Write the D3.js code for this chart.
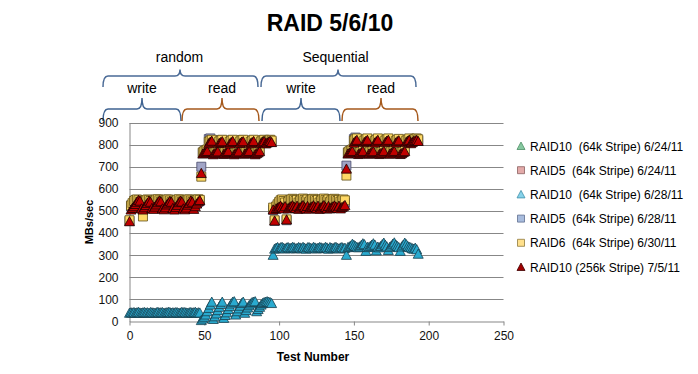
<!DOCTYPE html>
<html><head><meta charset="utf-8">
<script src="https://cdn.jsdelivr.net/npm/d3@7"></script>
<style>
body{margin:0;background:#fff}
svg{display:block}
text{font-family:"Liberation Sans",Arial,sans-serif;white-space:pre}
</style>
</head><body>
<svg id="chart" width="698" height="374"></svg>
<script>
// ---------------- data ----------------
const chartTitle = "RAID 5/6/10";
const xLabel = "Test Number";
const yLabel = "MBs/sec";
const xTicks = [0, 50, 100, 150, 200, 250];
const yTicks = [0, 100, 200, 300, 400, 500, 600, 700, 800, 900];
const groupLabels = ["random", "Sequential"];
const subLabels = ["write", "read", "write", "read"];
const seriesNames = [
  "RAID10  (64k Stripe) 6/24/11",
  "RAID5  (64k Stripe) 6/24/11",
  "RAID10  (64k Stripe) 6/28/11",
  "RAID5  (64k Stripe) 6/28/11",
  "RAID6  (64k Stripe) 6/30/11",
  "RAID10 (256k Stripe) 7/5/11"
];
// values indexed by test number (0..193)
const raid10_64k_0624 = [];
const raid5_64k_0624 = [];
const raid10_64k_0628 = [
  // random write 0-47
  38,40,39,41,38,40,42,39,38,40, 41,39,40,38,41,40,39,38,40,42,
  39,40,41,38,39,40,42,41,38,40, 39,41,40,38,39,42,40,41,39,38,
  40,41,39,40,42,38,40,39,
  // random read 48-95
  5,12,20,30,45,60,75,88,
  10,22,35,50,65,78,88,
  15,28,40,55,68,80,88,90,
  30,45,58,70,82,88,
  38,50,62,72,80,86,88,90,
  45,55,65,75,82,86,88,90,
  88,86,82,
  // sequential write 96-144
  300,
  328,332,335,330,334,336,331,329,333,335, 330,332,336,334,329,331,335,333,330,336,
  332,328,334,335,331,330,336,333,329,332, 335,334,330,331,336,333,328,335,332,330,
  334,336,331,329,333,335,330,332,
  // sequential read 145-193
  300,
  335,338,342,350,345,340,336,
  334,338,345,352,348,318,336,
  335,340,346,352,346,320,337,
  334,340,348,355,345,338,322,
  336,342,350,356,346,340,335,
  318,338,346,355,348,340,336,
  334,330,328,332,325,305
];
const raid5_64k_0628 = [
  // random write
  455,
  520,528,535,540,545,538,530,522,527,534, 540,544,537,530,521,528,535,541,545,538,
  529,522,528,534,540,544,537,530,521,527, 535,541,545,538,529,522,528,534,540,545,
  537,530,523,530,536,542,545,
  // random read
  700,
  762,768,772,776,825,828,820,
  760,766,770,775,815,820,818,
  762,766,770,775,812,818,816,
  760,765,770,774,814,818,816,
  762,766,771,775,812,818,816,
  760,765,770,774,814,818,816,
  812,816,818,816,812,
  // sequential write
  505,455,510,
  522,530,538,540,535,528,
  458,
  528,535,540,544,538,532,540,527,534,540, 545,538,530,541,528,535,540,544,538,532,
  540,527,534,540,545,538,530,541,528,535, 540,544,538,532,540,530,536,540,537,
  // sequential read
  705,
  762,768,772,776,825,832,822,
  760,765,770,775,815,820,822,
  761,765,770,774,814,820,822,
  760,765,769,775,815,820,822,
  761,766,770,775,814,818,820,
  760,765,770,774,815,820,822,
  812,816,820,822,822,818
];
const raid6_64k_0630 = [
  // random write
  458,
  525,535,545,550,552,548,540,
  530,475,
  540,548,552,550,545,
  528,538,546,552,553,548,542,
  530,540,548,552,552,547,540,
  528,538,546,551,553,548,542,
  530,540,547,552,552,547,541,
  535,545,550,553,550,
  // random read
  655,
  765,770,774,778,812,818,822,
  762,768,772,776,814,818,822,
  764,768,773,778,812,818,822,
  762,768,772,776,814,820,822,
  765,769,774,778,812,818,822,
  762,768,772,777,814,819,822,
  812,816,820,822,818,
  // sequential write
  515,458,520,
  530,540,548,552,545,538,
  462,
  540,548,552,555,550,545,550,
  538,546,552,556,550,544,552,
  540,548,552,555,550,545,550,
  538,546,552,556,550,544,552,
  540,548,552,555,550,545,550,
  542,548,552,548,
  // sequential read
  660,
  765,770,774,778,818,824,828,
  764,768,772,778,818,824,828,
  765,769,773,777,816,822,828,
  764,768,772,778,818,824,828,
  765,770,774,778,816,822,826,
  764,768,773,777,818,823,828,
  814,818,823,826,828,824
];
const raid10_256k_0705 = [
  // random write
  452,
  505,512,520,530,540,548,545,
  510,505,515,525,535,545,540,
  512,508,518,528,538,546,542,
  510,506,515,528,536,544,540,
  512,505,516,526,538,545,541,
  510,506,514,527,535,546,540,
  508,520,532,542,548,
  // random read
  670,
  758,762,766,770,805,812,816,
  755,760,764,768,806,810,814,
  756,760,765,770,804,810,815,
  755,760,764,768,806,812,814,
  757,761,766,770,805,810,815,
  755,760,764,769,806,811,814,
  804,808,812,815,810,
  // sequential write
  505,455,510,
  512,518,522,515,510,520,
  460,
  510,515,520,524,518,512,522,
  508,514,520,525,516,510,521,
  509,515,519,524,517,511,522,
  508,514,520,525,516,510,521,
  510,515,519,523,518,512,522,
  510,516,520,525,
  // sequential read
  690,
  758,762,766,770,808,815,820,
  756,760,765,770,810,815,820,
  757,761,765,769,808,814,820,
  756,760,764,770,810,816,820,
  757,762,766,770,808,814,818,
  756,760,765,769,810,815,820,
  805,810,815,818,820,815
];

// ---------------- styles ----------------
const series = [
  {name: seriesNames[0], values: raid10_64k_0624, shape: "tri", fill: "#4FB07A", stroke: "#2D6B48", lfill: "#86C8A0", lstroke: "#4E8F66"},
  {name: seriesNames[1], values: raid5_64k_0624, shape: "sq", fill: "#D99694", stroke: "#7A4A48", lfill: "#E3AAA9", lstroke: "#8A6060"},
  {name: seriesNames[2], values: raid10_64k_0628, shape: "tri", fill: "#2AAACF", stroke: "#163F4E", lfill: "#86D2EA", lstroke: "#3F8FAA"},
  {name: seriesNames[3], values: raid5_64k_0628, shape: "sq", fill: "#A0A4C6", stroke: "#46496A", lfill: "#A8BCDD", lstroke: "#5F6F8F"},
  {name: seriesNames[4], values: raid6_64k_0630, shape: "sq", fill: "#FFD966", stroke: "#5E4C14", lfill: "#FFE08C", lstroke: "#8F7A3E"},
  {name: seriesNames[5], values: raid10_256k_0705, shape: "tri", fill: "#C00000", stroke: "#1A0000", lfill: "#A00000", lstroke: "#400000"}
];

const svg = d3.select("#chart");
const x = d3.scaleLinear().domain([0, 250]).range([129.5, 503.5]);
const y = d3.scaleLinear().domain([0, 900]).range([321.5, 122.5]);

// title
svg.append("text").attr("x", 330).attr("y", 31).attr("text-anchor", "middle")
  .attr("font-size", 23).attr("font-weight", "bold").attr("fill", "#000").text(chartTitle);

// braces
function bracePath(x0, x1, xm, yTop, yMid, yEnd, r) {
  return `M${x0},${yEnd} Q${x0},${yMid} ${x0 + r},${yMid} L${xm - r},${yMid} Q${xm},${yMid} ${xm},${yTop}` +
         ` Q${xm},${yMid} ${xm + r},${yMid} L${x1 - r},${yMid} Q${x1},${yMid} ${x1},${yEnd}`;
}
const topBraces = [
  {x0: 103, x1: 258, xm: 180, color: "#4A6A96"},
  {x0: 261, x1: 416, xm: 338, color: "#4A6A96"}
];
topBraces.forEach((b, i) => {
  svg.append("path").attr("d", bracePath(b.x0, b.x1, b.xm, 69.5, 76, 87, 5))
    .attr("fill", "none").attr("stroke", b.color).attr("stroke-width", 1.5);
  svg.append("text").attr("x", (b.x0 + b.x1) / 2 + (i === 0 ? -1 : -3)).attr("y", 62)
    .attr("text-anchor", "middle").attr("font-size", 14).attr("fill", "#000").text(groupLabels[i]);
});
const subBraces = [
  {x0: 103, x1: 181, xm: 142, color: "#3F6391"},
  {x0: 182, x1: 259, xm: 222, color: "#A5581B"},
  {x0: 262, x1: 340, xm: 301, color: "#3F6391"},
  {x0: 342, x1: 418, xm: 381, color: "#A5581B"}
];
subBraces.forEach((b, i) => {
  svg.append("path").attr("d", bracePath(b.x0, b.x1, b.xm, 98, 109, 121, 5))
    .attr("fill", "none").attr("stroke", b.color).attr("stroke-width", 1.5);
  svg.append("text").attr("x", b.xm).attr("y", 93)
    .attr("text-anchor", "middle").attr("font-size", 14).attr("fill", "#000").text(subLabels[i]);
});

// gridlines
svg.append("g").selectAll("line").data(yTicks.filter(d => d > 0)).join("line")
  .attr("x1", x(0)).attr("x2", x(250)).attr("y1", d => Math.round(y(d)) + 0.5).attr("y2", d => Math.round(y(d)) + 0.5)
  .attr("stroke", "#878787").attr("stroke-width", 1);

// axes
const xAxis = svg.append("g").attr("transform", `translate(0,${y(0)})`)
  .call(d3.axisBottom(x).tickValues(xTicks).tickSize(4).tickPadding(6).tickSizeOuter(0));
const yAxis = svg.append("g").attr("transform", `translate(${x(0)},0)`)
  .call(d3.axisLeft(y).tickValues(yTicks).tickSize(0).tickPadding(11));
[xAxis, yAxis].forEach(g => {
  g.selectAll("path,line").attr("stroke", "#878787");
  g.selectAll("text").attr("font-size", 12).attr("fill", "#111")
    .style("font-family", '"Liberation Sans",Arial,sans-serif');
});

// axis titles
svg.append("text").attr("x", 313).attr("y", 361).attr("text-anchor", "middle")
  .attr("font-size", 12).attr("font-weight", "bold").text(xLabel);
svg.append("text").attr("transform", "translate(93,222) rotate(-90)").attr("text-anchor", "middle")
  .attr("font-size", 11).attr("font-weight", "bold").text(yLabel);

// markers
const triPath = "M0,-5L5,4.2L-5,4.2Z";
const sqPath = "M-4.5,-4.5H4.5V4.5H-4.5Z";
const plot = svg.append("g");
series.forEach(s => {
  const pts = s.values.map((v, i) => ({t: i, v})).filter(d => d.v != null);
  plot.append("g").selectAll("path").data(pts).join("path")
    .attr("d", s.shape === "tri" ? triPath : sqPath)
    .attr("transform", d => `translate(${x(d.t)},${y(d.v)})`)
    .attr("fill", s.fill).attr("stroke", s.stroke).attr("stroke-width", 0.8);
});

// legend
const legTri = "M0,-4L4,3.5L-4,3.5Z";
const legSq = "M-3.5,-3.5H3.5V3.5H-3.5Z";
const lg = svg.append("g");
series.forEach((s, i) => {
  const cy = 146 + i * 24.2;
  lg.append("path").attr("d", s.shape === "tri" ? legTri : legSq)
    .attr("transform", `translate(521,${cy})`)
    .attr("fill", s.lfill).attr("stroke", s.lstroke).attr("stroke-width", 0.8);
  lg.append("text").attr("x", 530).attr("y", cy + 4.5).attr("font-size", 12).attr("fill", "#000").text(s.name);
});
</script>
</body></html>
